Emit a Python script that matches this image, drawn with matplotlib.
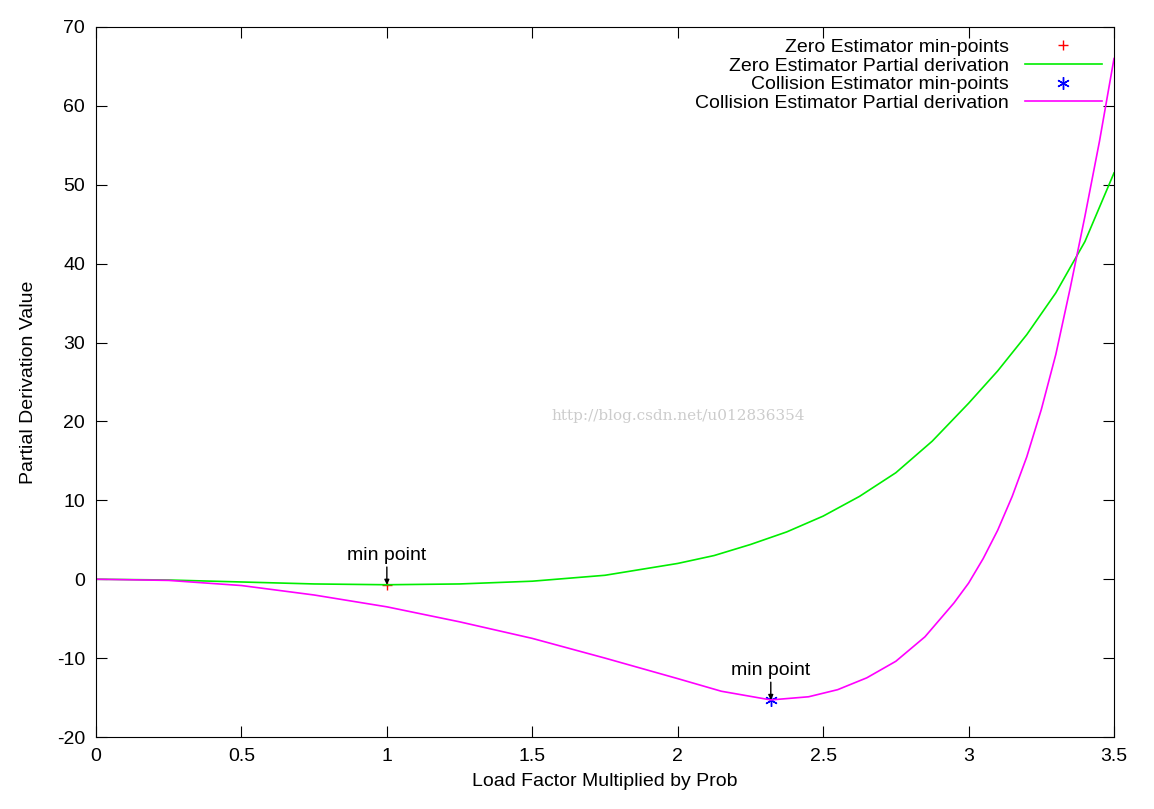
import matplotlib
matplotlib.use("Agg")
import matplotlib.pyplot as plt

plt.rcParams['font.family'] = 'Liberation Sans'
plt.rcParams['axes.unicode_minus'] = False

x_zero = [0, 0.25, 0.5, 0.75, 1.0, 1.25, 1.5, 1.75, 2.0, 2.125, 2.25, 2.375, 2.5, 2.625, 2.75, 2.875, 3.0, 3.1, 3.2, 3.3, 3.4, 3.5]
y_zero = [0, -0.1, -0.35, -0.6, -0.7, -0.6, -0.25, 0.5, 2.0, 3.0, 4.4, 6.0, 8.0, 10.5, 13.5, 17.5, 22.3, 26.4, 31.0, 36.3, 42.8, 51.5]
x_coll = [0, 0.25, 0.5, 0.75, 1.0, 1.25, 1.5, 1.75, 2.0, 2.15, 2.32, 2.45, 2.55, 2.65, 2.75, 2.85, 2.95, 3.0, 3.05, 3.1, 3.15, 3.2, 3.25, 3.3, 3.35, 3.4, 3.45, 3.5]
y_coll = [0, -0.15, -0.8, -2.0, -3.5, -5.4, -7.5, -10.0, -12.6, -14.2, -15.3, -14.9, -14.0, -12.5, -10.4, -7.3, -3.0, -0.5, 2.6, 6.2, 10.5, 15.5, 21.5, 28.5, 37.0, 46.0, 55.5, 66.0]
min_zero = (1.0, -0.7)
min_coll = (2.32, -15.3)

fig = plt.figure(figsize=(11.54, 8.09), dpi=100)
ax = fig.add_axes([96/1154, 1-737/809, (1114-96)/1154, (737-27)/809])
ax.plot([min_zero[0]], [min_zero[1]], '+', color='red', ms=7, label='Zero Estimator min-points', lw=0)
ax.plot(x_zero, y_zero, color='#00ee00', lw=1.2, label='Zero Estimator Partial derivation')
ax.plot([min_coll[0]], [min_coll[1]], marker=(6, 2, 0), color='blue', ms=9, label='Collision Estimator min-points', lw=0)
ax.plot(x_coll, y_coll, color='magenta', lw=1.2, label='Collision Estimator Partial derivation')
ax.set_xlim(0, 3.5)
ax.set_ylim(-20, 70)
ax.set_xticks([0, 0.5, 1, 1.5, 2, 2.5, 3, 3.5])
ax.set_xticklabels(['0', '0.5', '1', '1.5', '2', '2.5', '3', '3.5'])
ax.set_yticks(range(-20, 71, 10))
ax.tick_params(direction='in', top=True, right=True, labelsize=14, length=8, pad=8)
ax.set_xlabel('Load Factor Multiplied by Prob', fontsize=14, labelpad=6)
ax.set_ylabel('Partial Derivation Value', fontsize=14, labelpad=14)
for (mx, my) in [min_zero, min_coll]:
    ax.annotate('min point', xy=(mx, my), xytext=(mx, my + 2.6), ha='center', va='bottom', fontsize=14,
                arrowprops=dict(arrowstyle='-|>', color='black', lw=1, shrinkA=0, shrinkB=0, mutation_scale=7))
ax.text(2.0, 20.7, 'http://blog.csdn.net/u012836354', fontsize=11, color='#cccccc', family='DejaVu Serif', ha='center', va='center')
ax.legend(loc='upper right', frameon=False, markerfirst=False, fontsize=14, handlelength=4,
          labelspacing=0.05, borderaxespad=0.2)
fig.savefig('out.png', dpi=100)
